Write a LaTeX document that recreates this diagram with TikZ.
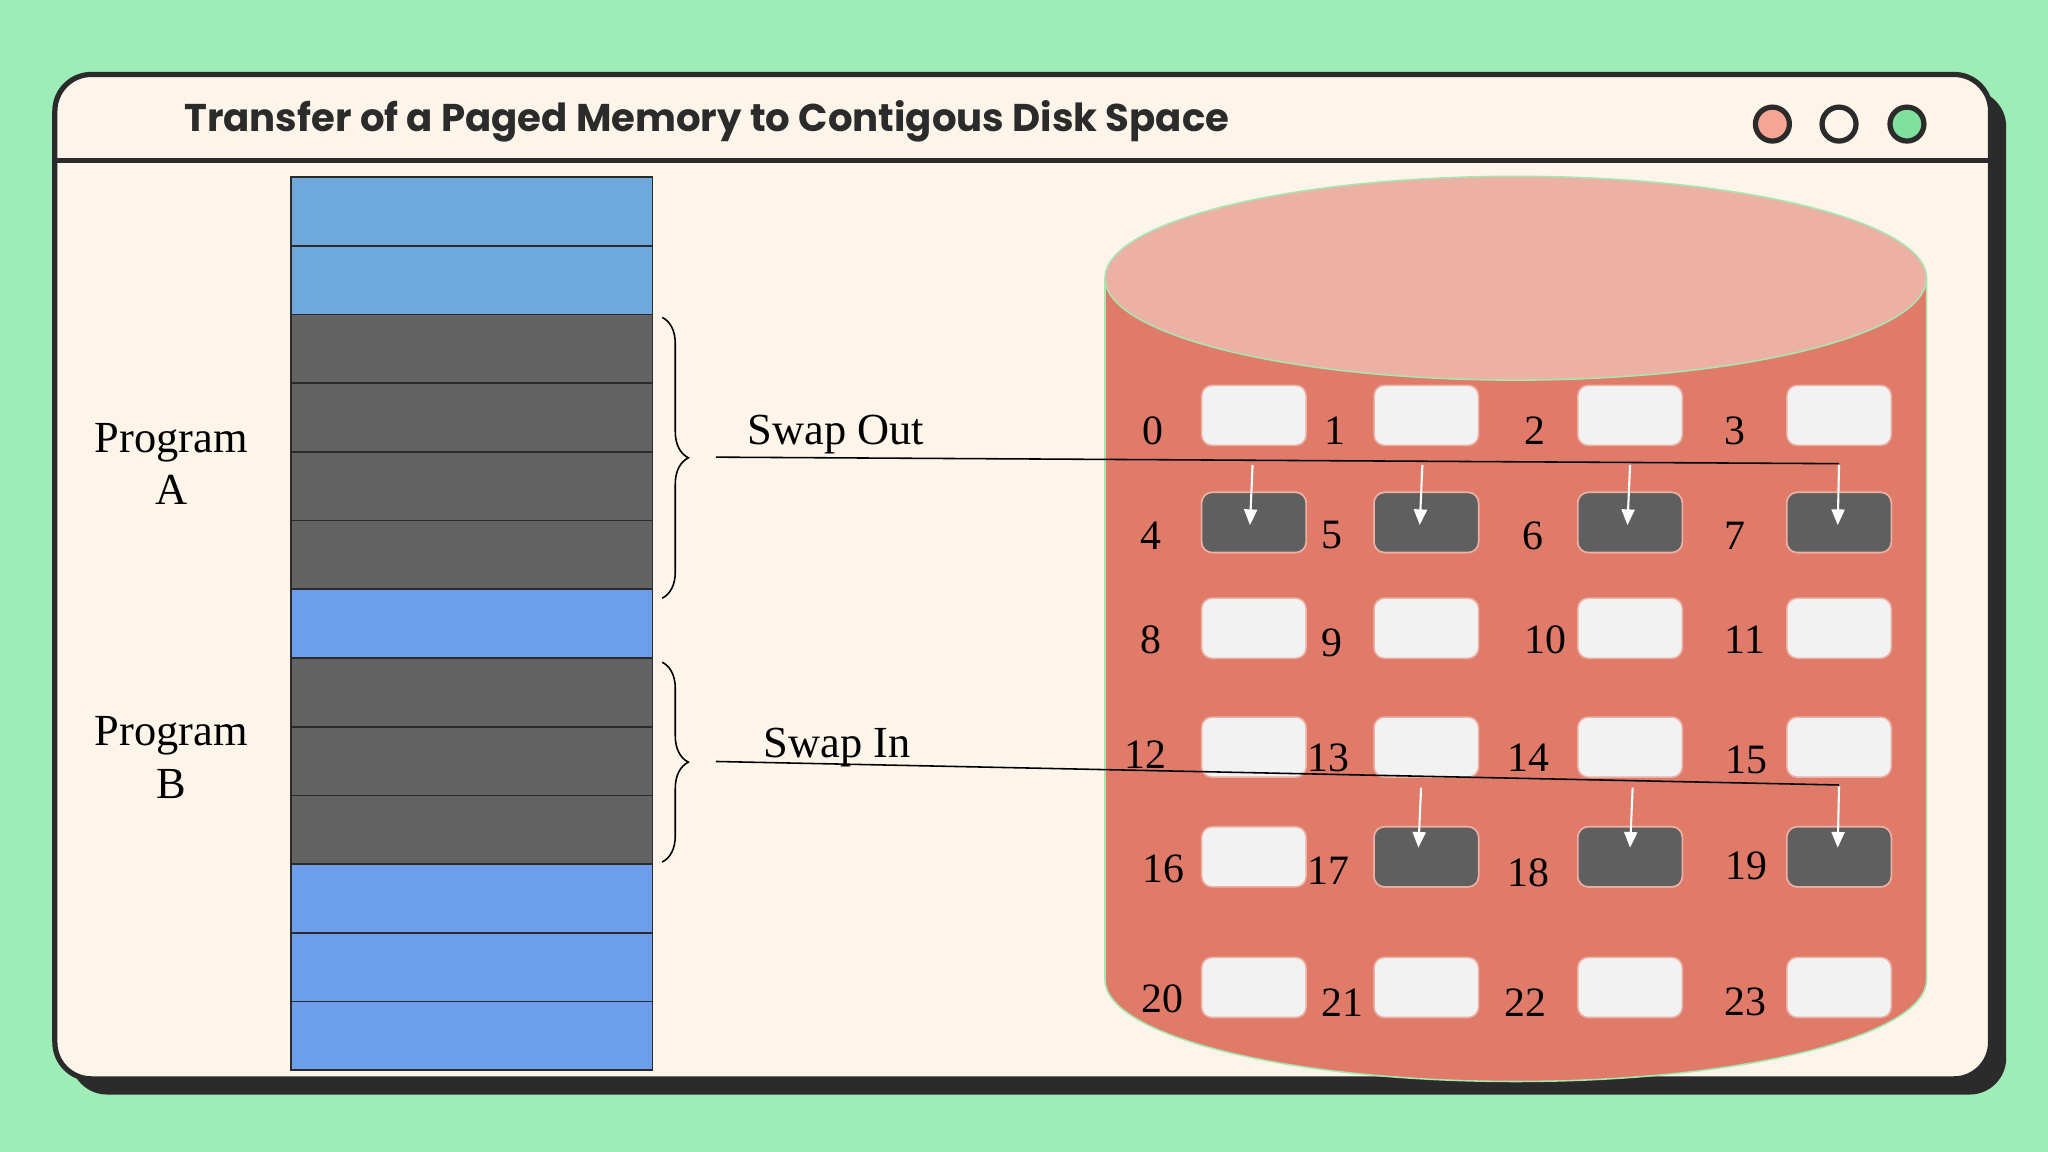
\documentclass[tikz,border=0pt]{standalone}
\usepackage{fontspec}
\setmainfont{Liberation Serif}
\newfontfamily\titlefont{Poppins}
\usetikzlibrary{decorations.pathreplacing,arrows.meta}
\definecolor{bgg}{HTML}{9EEDB8}
\definecolor{win}{HTML}{FDF5EA}
\definecolor{edge}{HTML}{2B2B2B}
\definecolor{blueA}{HTML}{6FA8DC}
\definecolor{blueB}{HTML}{6D9EEB}
\definecolor{darkc}{HTML}{636363}
\definecolor{cylb}{HTML}{E07B6A}
\definecolor{cylt}{HTML}{EDB0A5}
\definecolor{cyle}{HTML}{A8E6B0}
\definecolor{boxl}{HTML}{F2F2F2}
\definecolor{boxd}{HTML}{5F5F5F}
\definecolor{dotr}{HTML}{F4A594}
\definecolor{dotg}{HTML}{7FE0A0}
\tikzset{
 memrow/.style={draw=edge, line width=0.6pt, minimum width=138.5pt, minimum height=26.25pt, inner sep=0, anchor=north west},
 lbl/.style={font=\fontsize{17}{20}\selectfont, align=center},
 num/.style={font=\fontsize{16}{19}\selectfont},
 cell/.style={draw=cylt, line width=0.6pt, rounded corners=4pt, minimum width=40pt, minimum height=23pt, inner sep=0, fill=boxl},
 dcell/.style={cell, fill=boxd},
 warr/.style={white, line width=0.8pt, -{Triangle[width=5pt,length=6pt]}},
 dot/.style={circle, draw=edge, line width=2pt, minimum size=13pt, inner sep=0}
}
\begin{document}
\begin{tikzpicture}[x=0.5pt,y=-0.5pt]
\useasboundingbox (0,0) rectangle (1568,882);
\fill[bgg] (0,0) rectangle (1568,882);
\fill[edge, rounded corners=14pt] (54,69) rectangle (1536,838);
\filldraw[fill=win, draw=edge, line width=2pt, rounded corners=14pt] (42,57) rectangle (1524,826);
\draw[edge, line width=2pt] (42,123) -- (1524,123);
\node[anchor=west, font=\titlefont\bfseries\fontsize{14.8}{17}\selectfont, text=edge] (title) at (134,93) {Transfer of a Paged Memory to Contigous Disk Space};
\node[dot, fill=dotr] (d1) at (1357,95) {};
\node[dot, fill=win] (d2) at (1408,95) {};
\node[dot, fill=dotg] (d3) at (1460,95) {};
% memory
\foreach \i/\c in {0/blueA,1/blueA,2/darkc,3/darkc,4/darkc,5/darkc,6/blueB,7/darkc,8/darkc,9/darkc,10/blueB,11/blueB,12/blueB}{
 \node[memrow, fill=\c] (m\i) at (222,{135+\i*52.6}) {};
}
\node[lbl] (pa) at (131,355) {Program\\A};
\node[lbl] (pb) at (131,580) {Program\\B};
\draw[decorate, decoration={brace, amplitude=10pt}, line width=0.6pt] (507,243) -- (507,458);
\draw[decorate, decoration={brace, amplitude=10pt}, line width=0.6pt] (507,507) -- (507,660);
\coordinate (b1) at (548,350);
\coordinate (b2) at (548,583);
\node[lbl] (so) at (640,333) {Swap Out};
\node[lbl] (si) at (641,572) {Swap In};
% cylinder
\filldraw[fill=cylb, draw=cyle, line width=0.6pt] (846,213) -- (846,750) arc[start angle=180, end angle=0, x radius=314.5, y radius=78] -- (1475,213) -- cycle;
\filldraw[fill=cylt, draw=cyle, line width=0.6pt] (1160.5,213) ellipse[x radius=314.5, y radius=78];
% cells
\foreach \r/\y in {0/318,1/400,2/481,3/572,4/656,5/756}{
 \foreach \c/\x in {0/960,1/1092,2/1248,3/1408}{
  \node[cell] (c\r\c) at (\x,\y) {};
 }
}
\foreach \c/\x in {0/960,1/1092,2/1248,3/1408}{ \node[dcell] (c1\c) at (\x,400) {}; }
\foreach \c/\x in {1/1092,2/1248,3/1408}{ \node[dcell] (c4\c) at (\x,656) {}; }
\foreach \n/\x/\y in {0/883/330,1/1022/330,2/1175/330,3/1328/330,4/881/410,5/1020/410,6/1174/410,7/1328/410,8/881/490,9/1020/492,10/1183/490,11/1336/490,12/877/578,13/1017/580,14/1170/580,15/1337/582,16/891/665,17/1017/667,18/1170/668,19/1337/663,20/890/765,21/1028/768,22/1168/768,23/1336/767}{
 \node[num] (n\n) at (\x,\y) {\n};
}
\coordinate (e1) at (1408,355);
\coordinate (e2) at (1408,601);
\draw[line width=0.6pt] (b1) -- (e1);
\draw[line width=0.6pt] (b2) -- (e2);
\draw[warr] (959,356) -- (957,402);
\draw[warr] (1089,356) -- (1087,402);
\draw[warr] (1248,356) -- (1246,402);
\draw[warr] (1408,356) -- (1407,402);
\draw[warr] (1088,603) -- (1086,649);
\draw[warr] (1250,603) -- (1248,649);
\draw[warr] (1408,602) -- (1407,649);
\end{tikzpicture}
\end{document}
